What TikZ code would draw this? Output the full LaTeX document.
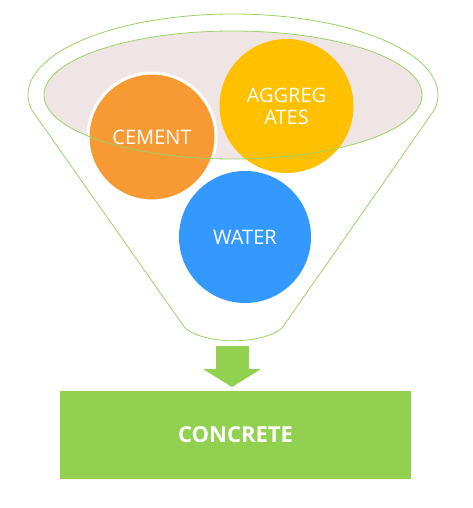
\documentclass[tikz,border=0pt]{standalone}
\usepackage{fontspec}
\setmainfont{Open Sans}
\definecolor{cem}{HTML}{F79A33}
\definecolor{agg}{HTML}{FFC000}
\definecolor{wat}{HTML}{3399FF}
\definecolor{grn}{HTML}{92D050}
\definecolor{rim}{HTML}{EFE5E5}
\definecolor{edge}{HTML}{9BD266}
\begin{document}
\begin{tikzpicture}[x=1pt,y=-1pt,
  ball/.style={circle,minimum size=#1,inner sep=0pt,text=white,font=\fontsize{20}{23}\selectfont,align=center},
  outline/.style={draw=edge,line width=0.8pt}]
\useasboundingbox (0,0) rectangle (473,508);
% pink rim fill
\fill[rim] (233,95) ellipse [x radius=189,y radius=64];
% funnel outline
\coordinate (fl) at ({233-205*cos(10)},{95+81*sin(10)});
\coordinate (bl) at (185,328);
\coordinate (br) at (282,328);
\draw[outline] (fl) arc[start angle=170,end angle=370,x radius=205,y radius=81]
  -- (br) .. controls (262,345) and (205,345) .. (bl) -- cycle;
% balls
\node[ball=128pt,fill=cem,draw=white,line width=3pt] (cement) at (152,137) {CEMENT};
\node[ball=134pt,fill=agg] (agg) at (286.5,106) {AGGREG\\[-1pt]ATES};
\node[ball=132pt,fill=wat] (water) at (245,237) {WATER};
% rim outline on top
\draw[outline] (233,95) ellipse [x radius=189,y radius=64];
% arrow
\fill[grn] (216,346) -- (249,346) -- (249,369) -- (261,369) -- (232,387) -- (203,369) -- (216,369) -- cycle;
% concrete box
\node[fill=grn,minimum width=351pt,minimum height=88pt,inner sep=0pt,text=white,font=\fontsize{22}{26}\selectfont\bfseries] (concrete) at (235.5,435) {CONCRETE};
\end{tikzpicture}
\end{document}
